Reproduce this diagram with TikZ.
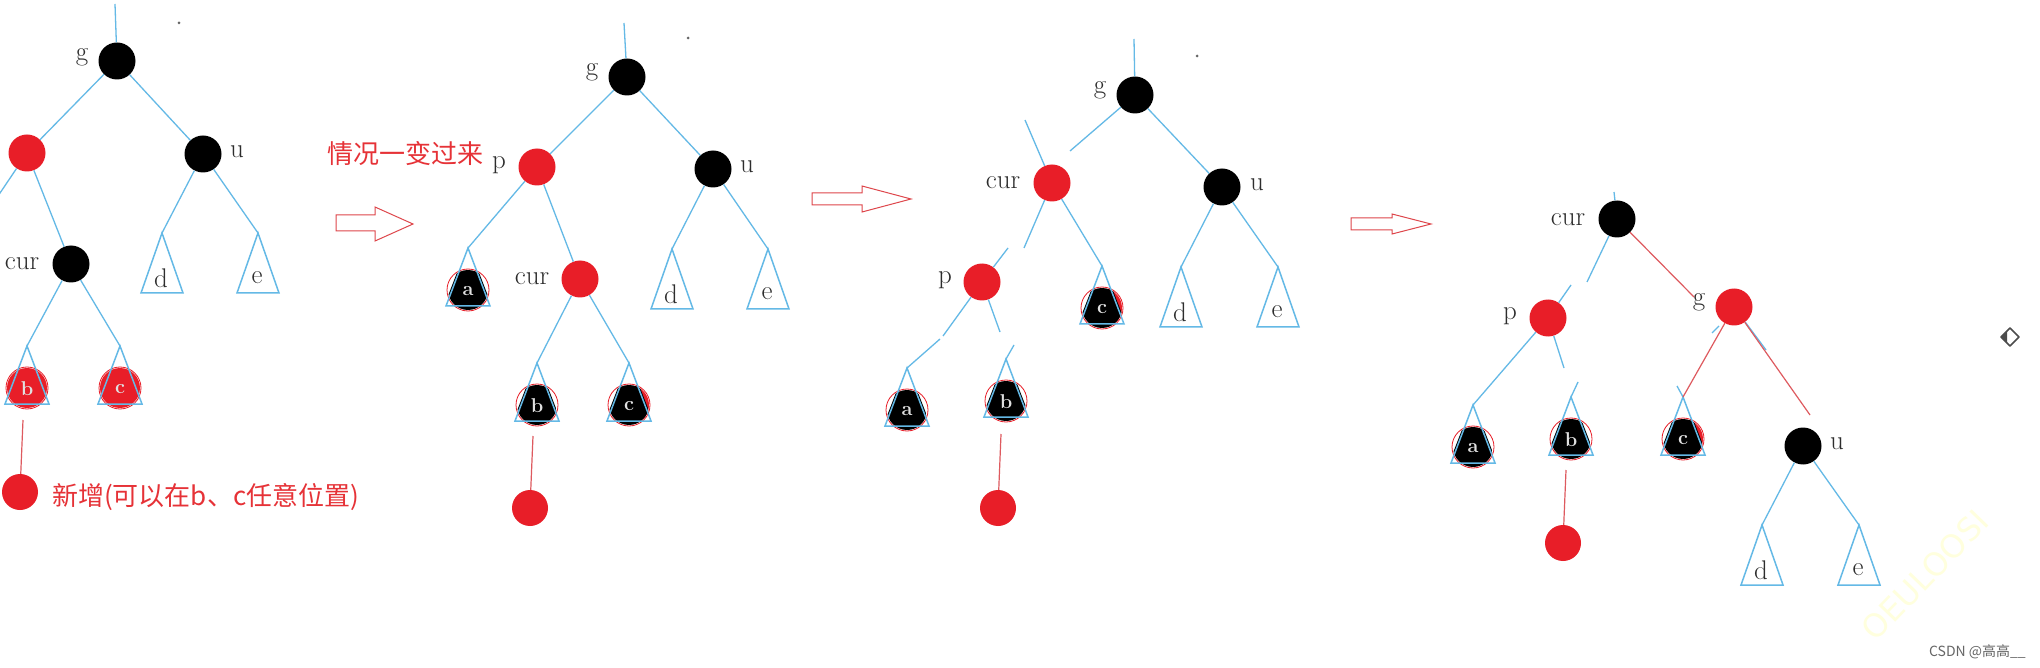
\documentclass[tikz,border=0pt]{standalone}
\usepackage{fontspec}
\newfontfamily\cjk{Noto Sans CJK SC}
\newfontfamily\wsans{DejaVu Sans}
\definecolor{nodered}{RGB}{232,30,40}
\definecolor{lineblue}{RGB}{100,185,230}
\definecolor{linered}{RGB}{222,90,95}
\definecolor{lblgray}{RGB}{45,45,45}
\definecolor{arrowred}{RGB}{222,70,75}
\definecolor{wmark}{RGB}{255,255,222}
\definecolor{txtred}{RGB}{230,50,55}
\tikzset{
 blk/.style={circle, fill=black, minimum size=37pt, inner sep=0pt},
 rdn/.style={circle, fill=nodered, minimum size=37pt, inner sep=0pt},
 lbl/.style={font=\fontsize{27}{27}\selectfont, text=lblgray, inner sep=0pt},
 ed/.style={draw=lineblue, line width=1.3pt},
 redln/.style={draw=linered, line width=1.2pt},
 tri/.style={draw=lineblue, line width=1.5pt, line join=miter},
 ring/.style={draw=nodered, line width=0.8pt},
 leaflbl/.style={font=\fontsize{20}{20}\selectfont\bfseries, text=black!12, inner sep=0pt},
 blockarrow/.style={draw=arrowred, line width=1pt, fill=white},
 cjktxt/.style={font=\cjk\fontsize{26}{26}\selectfont, text=txtred, inner sep=0pt},
}
% subtree triangle: name, x, y (apex), letter
\newcommand\subtri[4]{%
  \coordinate (#1) at (#2,#3);
  \draw[tri] (#1) -- (#2-21,#3+60) -- (#2+21,#3+60) -- cycle;
  \node[lbl] (#1l) at (#2-1,#3+45) {#4};
}
% leaf: name, x, y (apex), letter, type (r = red, k = black, c = black with red patch)
\newcommand\leafnode[5]{%
  \coordinate (#1) at (#2,#3);
  \begin{scope}
    \clip (#2,#3+42) circle (20pt);
    \if#5r
      \fill[nodered] (#2,#3+42) circle (21pt);
    \else
      \if#5c
        \fill[nodered] (#2+6,#3+14) rectangle (#2+25,#3+56);
      \fi
      \fill[black] (#2,#3-4) -- (#2-27,#3+66) -- (#2+27,#3+66) -- cycle;
    \fi
  \end{scope}
  \draw[ring] (#2,#3+42) circle (21pt);
  \draw[tri] (#1) -- (#2-22,#3+58) -- (#2+22,#3+58) -- cycle;
  \node[leaflbl] (#1l) at (#2,#3+43) {#4};
}
% hollow block arrow: x0, xh, xtip, shaft top, shaft bottom, head top, head bottom, tip y
\newcommand\blockarr[8]{%
  \draw[blockarrow] (#1,#4) -- (#2,#4) -- (#2,#6) -- (#3,#8) -- (#2,#7) -- (#2,#5) -- (#1,#5) -- cycle;
}
\begin{document}
\begin{tikzpicture}[x=1pt,y=-1pt]
\useasboundingbox (0,0) rectangle (2040,668);
\fill[white] (0,0) rectangle (2040,668);

% watermark (drawn first, very faint)
\node[font=\wsans\fontsize{32}{32}\selectfont, text=wmark, rotate=46, inner sep=0pt] (wm) at (1925,575) {OEULOOSI};

% ================= Tree 1 =================
\coordinate (t1top) at (115,4);
\node[blk] (t1g) at (117,61) {};
\node[lbl] (t1gl) at (82,57) {g};
\fill[black!60] (179,23) circle (1.5pt);
\node[rdn] (t1p) at (27,153) {};
\coordinate (t1off) at (-2,196);
\node[blk] (t1u) at (203,154) {};
\node[lbl] (t1ul) at (237,152) {u};
\node[blk] (t1cur) at (71,264) {};
\node[lbl] (t1curl) at (22,264) {cur};
\subtri{t1d}{162}{233}{d}
\subtri{t1e}{258}{233}{e}
\leafnode{t1b}{27}{346}{b}{r}
\leafnode{t1c}{120}{346}{c}{r}
\coordinate (t1stub) at (23,420);
\node[rdn, minimum size=36pt] (t1new) at (20,492) {};
\node[cjktxt, anchor=west] (t1txt) at (52,497) {新增(可以在b、c任意位置)};
\draw[ed] (t1top) -- (t1g);
\draw[ed] (t1g) -- (t1p);
\draw[ed] (t1g) -- (t1u);
\draw[ed] (t1p) -- (t1off);
\draw[ed] (t1p) -- (t1cur);
\draw[ed] (t1u) -- (t1d);
\draw[ed] (t1u) -- (t1e);
\draw[ed] (t1cur) -- (t1b);
\draw[ed] (t1cur) -- (t1c);
\draw[redln] (t1stub) -- (t1new);

% arrow 1 and caption
\blockarr{336}{375}{413}{215}{231}{207}{241}{224}
\node[cjktxt] (cap1) at (405,154) {情况一变过来};

% ================= Tree 2 =================
\coordinate (t2top) at (624,23);
\node[blk] (t2g) at (627,77) {};
\node[lbl] (t2gl) at (592,72) {g};
\fill[black!60] (688,38) circle (1.5pt);
\node[rdn] (t2p) at (537,167) {};
\node[lbl] (t2pl) at (499,165) {p};
\node[blk] (t2u) at (713,169) {};
\node[lbl] (t2ul) at (747,167) {u};
\leafnode{t2a}{468}{248}{a}{k}
\node[rdn] (t2cur) at (580,279) {};
\node[lbl] (t2curl) at (532,279) {cur};
\subtri{t2d}{672}{249}{d}
\subtri{t2e}{768}{249}{e}
\leafnode{t2b}{537}{363}{b}{k}
\leafnode{t2c}{629}{363}{c}{c}
\coordinate (t2stub) at (533,436);
\node[rdn, minimum size=36pt] (t2new) at (530,508) {};
\draw[ed] (t2top) -- (t2g);
\draw[ed] (t2g) -- (t2p);
\draw[ed] (t2g) -- (t2u);
\draw[ed] (t2p) -- (t2a);
\draw[ed] (t2p) -- (t2cur);
\draw[ed] (t2u) -- (t2d);
\draw[ed] (t2u) -- (t2e);
\draw[ed] (t2cur) -- (t2b);
\draw[ed] (t2cur) -- (t2c);
\draw[redln] (t2stub) -- (t2new);

% arrow 2
\blockarr{812}{862}{911}{193}{205}{186}{212}{199}

% ================= Tree 3 =================
\coordinate (t3top) at (1134,39);
\node[blk] (t3g) at (1135,95) {};
\node[lbl] (t3gl) at (1100,90) {g};
\fill[black!60] (1197,56) circle (1.5pt);
\coordinate (t3gcur) at (1070,151);
\node[rdn] (t3cur) at (1052,183) {};
\node[lbl] (t3curl) at (1003,183) {cur};
\coordinate (t3up) at (1025,120);
\node[blk] (t3u) at (1222,187) {};
\node[lbl] (t3ul) at (1257,185) {u};
\node[rdn] (t3p) at (982,282) {};
\node[lbl] (t3pl) at (945,280) {p};
\coordinate (t3cp1) at (1024,248);
\coordinate (t3cp2) at (1008,248);
\leafnode{t3c}{1102}{266}{c}{c}
\subtri{t3d}{1181}{267}{d}
\subtri{t3e}{1278}{267}{e}
\leafnode{t3a}{907}{368}{a}{k}
\leafnode{t3b}{1006}{359}{b}{k}
\coordinate (t3pa1) at (943,336);
\coordinate (t3pa2) at (940,339);
\coordinate (t3pb1) at (1000,332);
\coordinate (t3pb2) at (1014,345);
\coordinate (t3stub) at (1001,434);
\node[rdn, minimum size=36pt] (t3new) at (998,508) {};
\draw[ed] (t3top) -- (t3g);
\draw[ed] (t3g) -- (t3gcur);
\draw[ed] (t3cur) -- (t3up);
\draw[ed] (t3g) -- (t3u);
\draw[ed] (t3cur) -- (t3cp1);
\draw[ed] (t3cp2) -- (t3p);
\draw[ed] (t3cur) -- (t3c);
\draw[ed] (t3u) -- (t3d);
\draw[ed] (t3u) -- (t3e);
\draw[ed] (t3p) -- (t3pa1);
\draw[ed] (t3pa2) -- (t3a);
\draw[ed] (t3p) -- (t3pb1);
\draw[ed] (t3pb2) -- (t3b);
\draw[redln] (t3stub) -- (t3new);

% arrow 3
\blockarr{1351}{1392}{1431}{218}{230}{214}{234}{224}

% ================= Tree 4 =================
\coordinate (t4top) at (1614,192);
\node[blk] (t4cur) at (1617,219) {};
\node[lbl] (t4curl) at (1568,220) {cur};
\node[rdn] (t4p) at (1548,318) {};
\node[lbl] (t4pl) at (1510,316) {p};
\node[rdn] (t4g) at (1734,307) {};
\node[lbl] (t4gl) at (1699,302) {g};
\coordinate (t4cp1) at (1587,282);
\coordinate (t4cp2) at (1571,285);
\coordinate (t4cg) at (1694,297);
\leafnode{t4a}{1473}{405}{a}{k}
\leafnode{t4b}{1571}{397}{b}{k}
\leafnode{t4c}{1683}{397}{c}{c}
\coordinate (t4pb1) at (1564,368);
\coordinate (t4pb2) at (1578,382);
\coordinate (t4gu) at (1810,415);
\coordinate (t4gb) at (1766,350);
\coordinate (t4tk1) at (1712,333);
\coordinate (t4tk2) at (1719,326);
\coordinate (t4tk3) at (1677,386);
\node[blk] (t4u) at (1803,446) {};
\node[lbl] (t4ul) at (1837,444) {u};
\subtri{t4d}{1762}{525}{d}
\subtri{t4e}{1859}{525}{e}
\coordinate (t4stub) at (1566,470);
\node[rdn, minimum size=36pt] (t4new) at (1563,543) {};
\draw[ed] (t4top) -- (t4cur);
\draw[ed] (t4cur) -- (t4cp1);
\draw[ed] (t4cp2) -- (t4p);
\draw[redln] (t4cur) -- (t4cg);
\draw[ed] (t4p) -- (t4a);
\draw[ed] (t4p) -- (t4pb1);
\draw[ed] (t4pb2) -- (t4b);
\draw[ed] (t4tk1) -- (t4tk2);
\draw[ed] (t4tk3) -- (t4c);
\draw[redln] (t4g) -- (t4c);
\draw[ed] (t4g) -- (t4gb);
\draw[redln] (t4g) -- (t4gu);
\draw[ed] (t4u) -- (t4d);
\draw[ed] (t4u) -- (t4e);
\draw[redln] (t4stub) -- (t4new);

% small icon at right
\draw[line width=1.6pt, black!70, line join=round] (2010,328) -- (2019,337) -- (2010,346) -- (2001,337) -- cycle;
\fill[black!70] (2001,337) -- (2007,331) -- (2007,343) -- cycle;

% credit
\node[font=\cjk\fontsize{14}{14}\selectfont, text=black!60, anchor=east, inner sep=0pt] (credit) at (2026,652) {CSDN @高高\_\_};
\end{tikzpicture}
\end{document}
